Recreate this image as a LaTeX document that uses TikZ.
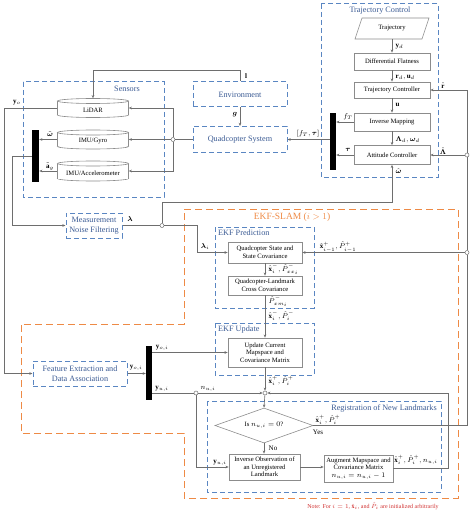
\documentclass[tikz,border=0pt]{standalone}
\usepackage{fontspec}
\setmainfont{Liberation Serif}
\usepackage{amsmath,bm}
\usetikzlibrary{arrows.meta,shapes.geometric}
\definecolor{bdash}{HTML}{5A86C2}
\definecolor{btext}{HTML}{3A5A93}
\definecolor{odash}{HTML}{EE8A45}
\definecolor{lnc}{HTML}{6E6E6E}
\definecolor{boxc}{HTML}{8C8C8C}
\definecolor{notec}{HTML}{D03030}
\newcommand\drawcyl[4]{%
 \draw[draw=boxc, fill=white, line width=0.6pt] (#1,#2+#4-2.5) ellipse ({#3} and 2.5);
 \fill[white] (#1-#3,#2-#4+2.5) rectangle (#1+#3,#2+#4-2.5);
 \draw[boxc, line width=0.6pt] (#1-#3,#2-#4+2.5) -- (#1-#3,#2+#4-2.5) (#1+#3,#2-#4+2.5) -- (#1+#3,#2+#4-2.5);
 \draw[draw=boxc, fill=white, line width=0.6pt] (#1,#2-#4+2.5) ellipse ({#3} and 2.5);
}
\tikzset{
 blk/.style={draw=boxc, fill=white, line width=0.6pt, align=center, font=\fontsize{6.6}{7.6}\selectfont, inner sep=1pt},
 gbox/.style={draw=bdash, dash pattern=on 5pt off 3pt, line width=1pt, align=center, text=btext, font=\fontsize{8.2}{9.4}\selectfont, inner sep=1pt},
 grp/.style={draw=bdash, dash pattern=on 5pt off 3pt, line width=1pt},
 gtitle/.style={text=btext, font=\fontsize{8.2}{9}\selectfont, inner sep=0pt},
 ln/.style={draw=lnc, line width=0.6pt},
 arr/.style={ln, -{Stealth[length=3.2pt,width=2.6pt]}},
 lab/.style={font=\fontsize{7}{7.5}\selectfont, inner sep=0.5pt},
 jn/.style={circle, draw=lnc, fill=white, inner sep=0pt, minimum size=4pt, line width=0.5pt},
 barbox/.style={fill=black, inner sep=0pt},
 cyl/.style={inner sep=0pt, font=\fontsize{6.6}{7.6}\selectfont},
}
\begin{document}
\begin{tikzpicture}[x=1pt,y=-1pt]
\useasboundingbox (0,0) rectangle (474,513);

% ---------- EKF-SLAM outline
\draw[odash, line width=1pt, dash pattern=on 7pt off 4pt] (184,209) -- (458,209) -- (458,498) -- (184,498) -- (184,433) -- (21,433) -- (21,324) -- (184,324) -- cycle;
\node[text=odash, font=\fontsize{9.5}{10}\selectfont, inner sep=0pt] (slamt) at (292,217) {EKF-SLAM ($i>1$)};

% ---------- Trajectory control
\draw[grp] (321,4) rectangle (438,177);
\node[gtitle] (tctitle) at (380,11) {Trajectory Control};
\draw[draw=boxc, fill=white, line width=0.6pt] (355,39)--(362,18)--(429,18)--(422,39)--cycle;
\node[blk, draw=none, fill=none, minimum width=68, minimum height=21] (traj) at (392,28.5) {Trajectory};
\node[blk, minimum width=76, minimum height=17] (flat) at (392,61.5) {Differential Flatness};
\node[blk, minimum width=76, minimum height=16] (tc) at (392,90) {Trajectory Controller};
\node[blk, minimum width=76, minimum height=18] (im) at (392,122) {Inverse Mapping};
\node[blk, minimum width=76, minimum height=19] (ac) at (392,155) {Attitude Controller};
\node[barbox, minimum width=6, minimum height=57] (barR) at (333,141.5) {};

\draw[arr] (traj.south) -- (flat.north);
\draw[arr] (flat.south) -- (tc.north);
\draw[arr] (tc.south) -- (im.north);
\draw[arr] (im.south) -- (ac.north);
\draw[arr] (im.west) -- (im.west -| barR.east);
\draw[arr] (ac.west) -- (ac.west -| barR.east);
\node[lab, anchor=west] (lyd) at (395,46.5) {$\mathbf{y}_d$};
\node[lab, anchor=west] (lrd) at (395,77.5) {$\mathbf{r}_d, \mathbf{u}_d$};
\node[lab, anchor=west] (lu) at (395,105) {$\mathbf{u}$};
\node[lab, anchor=west] (lLd) at (395,140) {$\bm{\Lambda}_d, \bm{\omega}_d$};
\node[lab, anchor=west] (lwh) at (395,171) {$\hat{\bm{\omega}}$};
\node[lab] (lfT) at (348,117) {$f_T$};
\node[lab] (ltau) at (348,150) {$\bm{\tau}$};

% ---------- Environment / quadcopter
\node[gbox, minimum width=94, minimum height=25] (env) at (240,94.5) {Environment};
\node[gbox, minimum width=94, minimum height=26] (quad) at (240,139.5) {Quadcopter System};
\draw[arr] (barR.west |- quad.east) -- (quad.east);
\node[lab] (lft) at (308,134) {$[f_T, \bm{\tau}]$};
\draw[arr] (env.south) -- (quad.north);
\node[lab] (lg) at (235,115) {$\bm{g}$};

% ---------- Sensors
\draw[grp] (23,82) rectangle (164,197);
\node[gtitle] (senst) at (127,89) {Sensors};
\drawcyl{93}{108}{35.5}{9.5}
\drawcyl{93}{139.5}{35.5}{9.5}
\drawcyl{93}{171}{35.5}{10}
\node[cyl, minimum width=71, minimum height=19] (lidar) at (93,108) {};
\node[cyl] (lidart) at (93,110) {LiDAR};
\node[cyl, minimum width=71, minimum height=19] (gyro) at (93,139.5) {};
\node[cyl] (gyrot) at (93,141.5) {IMU/Gyro};
\node[cyl, minimum width=71, minimum height=20] (acc) at (93,171) {};
\node[cyl] (acct) at (93,173) {IMU/Accelerometer};
\node[barbox, minimum width=7, minimum height=52] (barL) at (35.5,156) {};

\draw[arr] (env.north) -- ++(0,-11) -| (lidar.north);
\node[lab] (ll) at (246,76) {$\mathbf{l}$};
\node[jn] (jq) at (173,139.5) {};
\draw[ln] (quad.west) -- (jq);
\draw[arr] (jq) -- (gyro.east);
\draw[arr] (jq) |- (lidar.east);
\draw[arr] (jq) |- (acc.east);
\draw[arr] (gyro.west) -- (gyro.west -| barL.east);
\draw[arr] (acc.west) -- (acc.west -| barL.east);
\node[lab] (lwt) at (50,134.5) {$\tilde{\bm{\omega}}$};
\node[lab] (lag) at (50,166.5) {$\tilde{\mathbf{a}}_g$};

% ---------- measurement noise filtering
\node[gbox, minimum width=56, minimum height=25] (mnf) at (94,225.5) {Measurement\\Noise Filtering};
\draw[arr] (barL.west) -- ++(-20,0) |- (mnf.west);
\node[jn] (jl) at (162,225.5) {};
\draw[ln] (mnf.east) -- (jl);
\node[lab] (llam) at (130,219.5) {$\bm{\lambda}$};
\draw[arr] (jl) |- (392,202) -- (ac.south);

% ---------- EKF prediction
\draw[grp] (215,227) rectangle (314,308);
\node[gtitle, anchor=west] (predt) at (218,233) {EKF Prediction};
\node[blk, minimum width=74, minimum height=21] (qs) at (265,252.5) {Quadcopter State and\\State Covariance};
\node[blk, minimum width=74, minimum height=19] (qlc) at (265,285.5) {Quadcopter-Landmark\\Cross Covariance};
\draw[arr] (jl) -- (197,225.5) |- (qs.west);
\node[lab] (llami) at (205,247) {$\bm{\lambda}_i$};
\draw[arr] (qs.south) -- (qlc.north);
\node[lab, anchor=west] (lxx) at (268,269.5) {$\hat{\mathbf{x}}_i^-,\hat{P}_{xx_i}^-$};
\node[lab, anchor=west] (lxm) at (268,301.5) {$\hat{P}_{xm_i}^-$};

% ---------- EKF update
\draw[grp] (215,323) rectangle (314,375);
\node[gtitle, anchor=west] (updt) at (218,330) {EKF Update};
\node[blk, minimum width=74, minimum height=29] (upd) at (265,352.5) {Update Current\\Mapspace and\\Covariance Matrix};
\draw[arr] (qlc.south) -- (upd.north);
\node[lab, anchor=west] (lxp) at (268,316) {$\hat{\mathbf{x}}_i^-,\hat{P}_i^-$};

% ---------- feature extraction
\node[gbox, minimum width=94, minimum height=25] (fe) at (80,373.5) {Feature Extraction and\\Data Association};
\node[barbox, minimum width=6, minimum height=54] (barF) at (149,373) {};
\draw[arr] (lidar.west) -- (4,108) |- (fe.west);
\node[lab] (lyo) at (17,103) {$\mathbf{y}_o$};
\draw[arr] (fe.east) -- (fe.east -| barF.west);
\node[lab] (lyoi1) at (136,368) {$\mathbf{y}_{o,i}$};
\draw[arr] (barF.east |- upd.west) -- (upd.west);
\node[lab] (lyoi2) at (162,347.5) {$\mathbf{y}_{o,i}$};

% ---------- registration of new landmarks
\node[jn] (jm) at (265,393) {};
\node[jn] (jn) at (196,393) {};
\draw[ln] (barF.east |- jn.west) -- (jn);
\node[lab] (lyui1) at (162,388.5) {$\mathbf{y}_{u,i}$};
\draw[arr] (jn) -- (jm);
\node[lab] (lnui) at (208,389) {$n_{u,i}$};
\draw[arr] (upd.south) -- (jm);
\node[lab, anchor=west] (lxpp) at (268,381) {$\hat{\mathbf{x}}_i^+,\hat{P}_i^+$};

\draw[grp] (207,401) rectangle (441,492);
\node[gtitle] (regt) at (384,408) {Registration of New Landmarks};
\node[draw=boxc, line width=0.6pt, diamond, aspect=2.8, minimum width=98, minimum height=35, inner sep=0pt, font=\fontsize{6.6}{7.6}\selectfont] (dia) at (264,425.5) {Is $n_{u,i}=0$?};
\node[blk, minimum width=71, minimum height=26] (inv) at (264.5,467) {Inverse Observation of\\an Unregistered\\Landmark};
\node[blk, minimum width=69, minimum height=27] (aug) at (358.5,468.5) {Augment Mapspace and\\Covariance Matrix\\$n_{u,i}=n_{u,i}-1$};
\draw[arr] (jm) -- (dia.north);
\draw[arr] (dia.south) -- (dia.south |- inv.north);
\node[lab] (lno) at (273,448) {No};
\draw[arr] (jn) |- (inv.west);
\node[lab] (lyui2) at (220,462.5) {$\mathbf{y}_{u,i}$};
\draw[arr] (inv.east) -- (inv.east -| aug.west);
\draw[arr] (aug.east) -- (448,468.5) |- (jm);
\node[lab] (laug) at (416,460) {$\hat{\mathbf{x}}_i^+,\hat{P}_i^+,n_{u,i}$};

% ---------- feedback
\coordinate (rt) at (467,90);
\node[jn] (jA) at (467,155) {};
\node[jn] (jS) at (467,252.5) {};
\draw[ln] (dia.east) -- (467,425.5) -- (jS) -- (jA) -- (rt);
\draw[arr] (rt) -- (tc.east);
\draw[arr] (jA) -- (ac.east);
\draw[arr] (jS) -- (qs.east);
\node[lab] (lrh) at (443,85.5) {$\hat{\mathbf{r}}$};
\node[lab] (lLh) at (443,151) {$\hat{\bm{\Lambda}}$};
\node[lab] (lxim) at (338,247) {$\hat{\mathbf{x}}_{i-1}^+,\hat{P}_{i-1}^+$};
\node[lab] (lxyes) at (328,420) {$\hat{\mathbf{x}}_i^+,\hat{P}_i^+$};
\node[lab] (lyes) at (318,432) {Yes};

\node[text=notec, font=\fontsize{6}{7}\selectfont, inner sep=0pt] (note) at (373,506) {Note: For $i=1$, $\hat{\mathbf{x}}_i$, and $\hat{P}_i$ are initialized arbitrarily};
\end{tikzpicture}
\end{document}
